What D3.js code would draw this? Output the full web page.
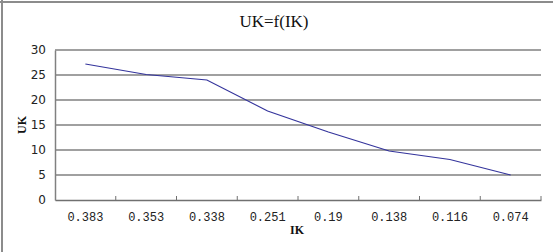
<!DOCTYPE html>
<html>
<head>
<meta charset="utf-8">
<script src="https://cdn.jsdelivr.net/npm/d3@7"></script>
<style>
  body { margin: 0; background: #fff; }
  svg { display: block; }
</style>
</head>
<body>
<script>
var categories = ["0.383", "0.353", "0.338", "0.251", "0.19", "0.138", "0.116", "0.074"];
var ukValues = [27.2, 25.1, 24.0, 17.8, 13.6, 9.8, 8.1, 5.0];
var yTicks = [0, 5, 10, 15, 20, 25, 30];

var width = 553;
var height = 252;
// plot area edges
var plotLeft = 55, plotRight = 541, plotTop = 50, plotBottom = 200;

var svg = d3.select("body").append("svg").attr("width", width).attr("height", height);

// outer frame (only top and left edges visible)
svg.append("line").attr("x1", 0).attr("x2", width).attr("y1", 2).attr("y2", 2)
  .attr("stroke", "#8c8c8c").attr("stroke-width", 2);
svg.append("line").attr("x1", 2).attr("x2", 2).attr("y1", 0).attr("y2", height)
  .attr("stroke", "#8c8c8c").attr("stroke-width", 2);

var x = d3.scaleBand().domain(categories).range([plotLeft, plotRight]).padding(0);
var y = d3.scaleLinear().domain([0, 30]).range([plotBottom, plotTop]);

// gridlines
svg.append("g")
  .selectAll("line")
  .data(yTicks.filter(function (d) { return d > 0; }))
  .enter()
  .append("line")
  .attr("x1", plotLeft)
  .attr("x2", plotRight)
  .attr("y1", function (d) { return y(d); })
  .attr("y2", function (d) { return y(d); })
  .attr("stroke", "#808080")
  .attr("stroke-width", 1.5);

// y axis
var yAxis = svg.append("g")
  .attr("transform", "translate(" + plotLeft + ",0)")
  .call(d3.axisLeft(y).tickValues(yTicks).tickSize(0).tickPadding(9));
yAxis.select(".domain").attr("stroke", "#808080").attr("stroke-width", 1.5);
yAxis.selectAll("text")
  .attr("font-family", "'DejaVu Sans', sans-serif")
  .attr("font-size", 12)
  .attr("fill", "#222");

// x axis
var xAxis = svg.append("g")
  .attr("transform", "translate(0," + plotBottom + ")")
  .call(d3.axisBottom(x).tickSize(0).tickPadding(12));
xAxis.select(".domain").attr("stroke", "#707070").attr("stroke-width", 1.5);
xAxis.selectAll("text")
  .attr("font-family", "'Liberation Mono', monospace")
  .attr("font-size", 12)
  .attr("fill", "#222");

// tick marks between categories, pointing up
var bounds = categories.map(function (c) { return x(c) + x.bandwidth(); });
svg.append("g")
  .selectAll("line")
  .data(bounds)
  .enter()
  .append("line")
  .attr("x1", function (d) { return d; })
  .attr("x2", function (d) { return d; })
  .attr("y1", plotBottom - 4)
  .attr("y2", plotBottom)
  .attr("stroke", "#707070")
  .attr("stroke-width", 1);

// data line
var line = d3.line()
  .x(function (d, i) { return x(categories[i]) + x.bandwidth() / 2; })
  .y(function (d) { return y(d); });

svg.append("path")
  .datum(ukValues)
  .attr("d", line)
  .attr("fill", "none")
  .attr("stroke", "#34349c")
  .attr("stroke-width", 1.2);

// title
svg.append("text")
  .attr("x", 274)
  .attr("y", 27)
  .attr("text-anchor", "middle")
  .attr("font-family", "'Liberation Serif', serif")
  .attr("font-size", 17)
  .attr("fill", "#111")
  .text("UK=f(IK)");

// axis titles
svg.append("text")
  .attr("x", 297)
  .attr("y", 234)
  .attr("text-anchor", "middle")
  .attr("font-family", "'Liberation Serif', serif")
  .attr("font-weight", "bold")
  .attr("font-size", 12)
  .attr("fill", "#111")
  .text("IK");

svg.append("text")
  .attr("transform", "translate(26,125) rotate(-90)")
  .attr("text-anchor", "middle")
  .attr("font-family", "'Liberation Serif', serif")
  .attr("font-weight", "bold")
  .attr("font-size", 12)
  .attr("fill", "#111")
  .text("UK");
</script>
</body>
</html>
